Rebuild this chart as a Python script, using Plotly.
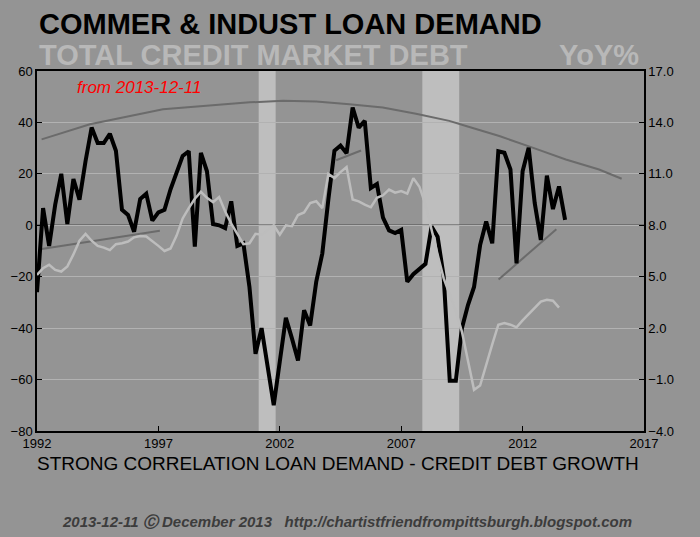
import plotly.graph_objects as go

# quarterly positions 1992Q1 .. 2013Q4
quarters = [y + q / 4 for y in range(1992, 2014) for q in range(4)]

# C&I loan demand (left axis)
loan_demand = [
    -26, 6.7, -8, 8,
    20, 0.5, 18, 10,
    25, 38, 32, 32,
    35.6, 29, 6, 4,
    -2.5, 10.2, 12.3, 1.8,
    5, 6, 14, 21,
    27, 28.8, -8.3, 28.2,
    21, 0.5, 0, -1.1,
    9.3, -8, -7, -24,
    -50, -40, -56, -70,
    -53, -36, -44, -52.6,
    -33, -39, -22, -11,
    10, 29, 31, 28,
    45.8, 38, 40.6, 14.5,
    16, 3, -2, -3,
    -1.8, -22, -19, -17,
    -15, -0.5, -4.4, -20,
    -60.5, -60.5, -40, -31,
    -24, -7.7, 1.5, -7,
    28.8, 28.2, 21.7, -14.8,
    21, 30.2, 8.6, -5.7,
    19.3, 6.3, 15.1, 2.1,
]

# total credit market debt YoY% (right axis)
credit_debt = [
    5.1, 5.5, 5.7, 5.4,
    5.3, 5.6, 6.3, 7.1,
    7.5, 7.1, 6.8, 6.7,
    6.55, 6.9, 6.95, 7.05,
    7.3, 7.38, 7.35, 7.1,
    6.8, 6.5, 6.65, 7.4,
    8.4, 9.0, 9.55, 9.95,
    9.6, 9.35, 9.65, 8.8,
    8.1, 7.5, 6.9, 6.95,
    7.5, 7.45, 7.7, 8.0,
    7.45, 8.0, 7.95, 8.6,
    8.75, 9.3, 9.4, 9.0,
    11.0, 10.75, 11.1, 11.4,
    9.5, 9.4, 9.2, 9.05,
    9.6, 9.75, 10.08, 9.9,
    10.0, 9.85, 10.75, 10.25,
    9.2, 7.7, 6.3, 4.9,
    3.9, 3.0, 1.8, 0.0,
    -1.6, -1.35, -0.1, 1.05,
    2.2, 2.3, 2.2, 2.05,
    2.45, 2.8, 3.2, 3.55,
    3.65, 3.6, 3.2,
]

# hand drawn trend lines (left axis units)
arc_x = [1992.19, 1994.18, 1997.19, 2000.76, 2002.13, 2003.5, 2004.87, 2006.24,
         2007.61, 2008.98, 2009.67, 2011.04, 2012.41, 2013.78, 2015.15, 2016.08]
arc_y = [33.4, 39.3, 45.1, 47.8, 48.4, 48.1, 47.1, 45.8,
         43.4, 40.6, 38.6, 34.7, 30.2, 25.6, 21.7, 18.1]
trend_left_x, trend_left_y = [1992.19, 1997.06], [-9.2, -2.1]
trend_mid_x, trend_mid_y = [2004.32, 2005.35], [25.3, 29.1]
trend_right_x, trend_right_y = [2011.01, 2013.39], [-21.1, -1.5]

recessions = [(2001.13, 2001.83), (2007.87, 2009.39)]

x_ticks = [1992, 1997, 2002, 2007, 2012, 2017]
left_ticks = [-80, -60, -40, -20, 0, 20, 40, 60]
right_ticks = [-4.0, -1.0, 2.0, 5.0, 8.0, 11.0, 14.0, 17.0]

BG = "#949494"
FONT = "Liberation Sans, Arial, sans-serif"

fig = go.Figure()

fig.add_trace(go.Scatter(x=quarters[:len(credit_debt)], y=credit_debt, yaxis="y2",
                         mode="lines", line=dict(color="#bdbdbd", width=2.5)))
for tx, ty in [(arc_x, arc_y), (trend_left_x, trend_left_y),
               (trend_mid_x, trend_mid_y), (trend_right_x, trend_right_y)]:
    fig.add_trace(go.Scatter(x=tx, y=ty, mode="lines", line=dict(color="#6b6b6b", width=2)))
fig.add_trace(go.Scatter(x=quarters, y=loan_demand, mode="lines",
                         line=dict(color="black", width=4)))

shapes = []
for x0, x1 in recessions:
    shapes.append(dict(type="rect", xref="x", yref="paper", x0=x0, x1=x1, y0=0, y1=1,
                       fillcolor="#bebebe", line=dict(width=0), layer="between"))
shapes.append(dict(type="line", xref="paper", yref="y", x0=0, x1=1, y0=0, y1=0,
                   line=dict(color="#4d4d4d", width=1.5), layer="between"))

annotations = [
    dict(text="<b>COMMER & INDUST LOAN DEMAND</b>", x=0.0, y=1.13, xanchor="left", yanchor="middle",
         font=dict(family=FONT, size=29, color="black")),
    dict(text="<b>TOTAL CREDIT MARKET DEBT</b>", x=0.0, y=1.045, xanchor="left", yanchor="middle",
         font=dict(family=FONT, size=29, color="#b8b8b8")),
    dict(text="<b>YoY%</b>", x=0.995, y=1.045, xanchor="right", yanchor="middle",
         font=dict(family=FONT, size=29, color="#b8b8b8")),
    dict(text="<i>from 2013-12-11</i>", x=0.062, y=0.953, xanchor="left", yanchor="middle",
         font=dict(family=FONT, size=17, color="red")),
    dict(text="STRONG CORRELATION LOAN DEMAND - CREDIT DEBT GROWTH", x=0.496, y=-0.09,
         xanchor="center", yanchor="middle", font=dict(family=FONT, size=19, color="black")),
    dict(text="<b><i>2013-12-11 \u24b8 December 2013   http://chartistfriendfrompittsburgh.blogspot.com</i></b>",
         x=0.51, y=-0.25, xanchor="center", yanchor="middle",
         font=dict(family=FONT, size=15, color="#3c3c3c")),
]
for a in annotations:
    a.update(xref="paper", yref="paper", showarrow=False)

fig.update_layout(
    width=700, height=537,
    margin=dict(l=37, r=56, t=71, b=106, autoexpand=False),
    paper_bgcolor=BG, plot_bgcolor=BG,
    showlegend=False, hovermode=False,
    shapes=shapes, annotations=annotations,
    font=dict(family=FONT, size=13, color="black"),
    xaxis=dict(range=[1992, 2017], tickvals=x_ticks,
               ticks="inside", ticklen=5, tickcolor="black", showgrid=False, zeroline=False,
               showline=True, linecolor="black", linewidth=1.5, mirror=True),
    yaxis=dict(range=[-80, 60], tickvals=left_ticks, ticks="inside", ticklen=5, tickcolor="black",
               showgrid=True, gridcolor="#b2b2b2", gridwidth=1, zeroline=False,
               showline=True, linecolor="black", linewidth=1.5),
    yaxis2=dict(range=[-4, 17], tickvals=right_ticks, tickformat=".1f", overlaying="y", side="right",
                ticks="inside", ticklen=5, tickcolor="black", showgrid=False, zeroline=False,
                showline=True, linecolor="black", linewidth=1.5),
)

# drop the default 8px page margin so the figure sits at the window corner
fig.write_html("out.html", config={"displayModeBar": False},
               post_script="document.body.style.margin='0';")
